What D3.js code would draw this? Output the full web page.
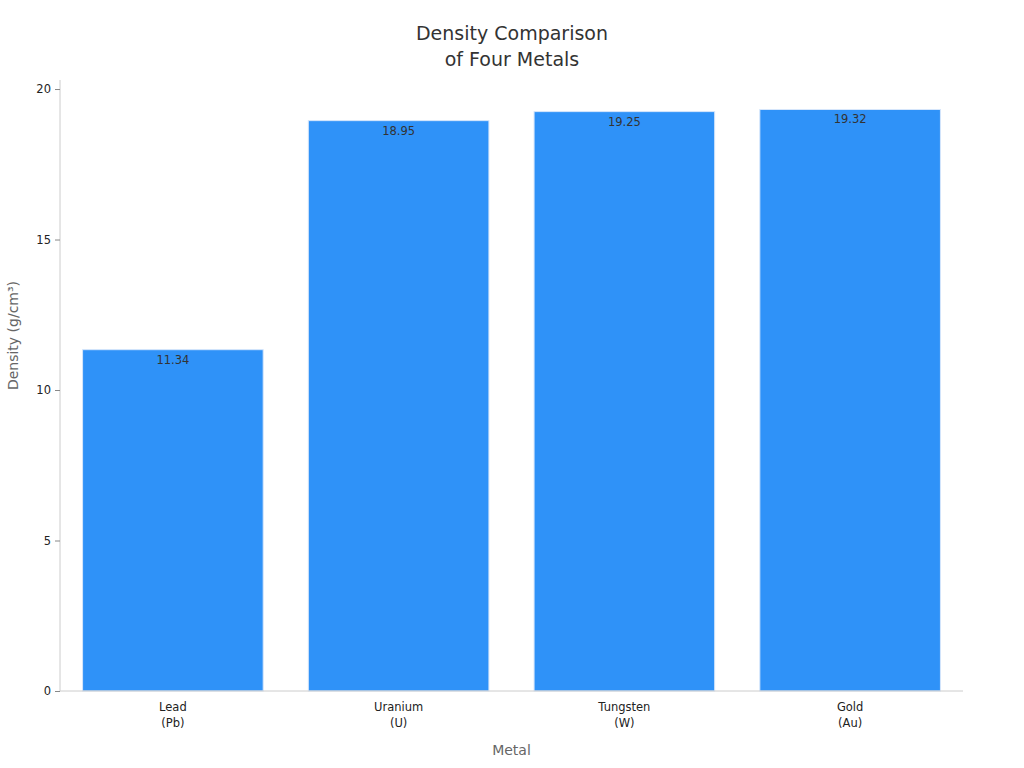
<!DOCTYPE html>
<html>
<head>
<meta charset="utf-8">
<script src="https://cdn.jsdelivr.net/npm/d3@7"></script>
<style>
  body { margin: 0; background: #fff; font-family: "DejaVu Sans", sans-serif; }
</style>
</head>
<body>
<div id="chart"></div>
<script>
// Data
const metals = ['Lead', 'Uranium', 'Tungsten', 'Gold']
const symbols = ['(Pb)', '(U)', '(W)', '(Au)']
const densities = [11.34, 18.95, 19.25, 19.32]
const yTicks = [0, 5, 10, 15, 20]

// Dimensions
const dimensions = {
  width: 1024,
  height: 768,
  margin: { top: 80, bottom: 77, left: 60, right: 61 }
}
const innerW = dimensions.width - dimensions.margin.left - dimensions.margin.right
const innerH = dimensions.height - dimensions.margin.top - dimensions.margin.bottom

const svg = d3.select('#chart')
  .append('svg')
  .attr('width', dimensions.width)
  .attr('height', dimensions.height)

const ctr = svg.append('g')
  .attr('transform', `translate(${dimensions.margin.left}, ${dimensions.margin.top})`)

// Scales
const x = d3.scaleBand()
  .domain(metals)
  .range([0, innerW])
  .paddingInner(0.2)
  .paddingOuter(0.1)

const y = d3.scaleLinear()
  .domain([0, 20.3])
  .range([innerH, 0])

// Bars
ctr.selectAll('rect.bar')
  .data(metals)
  .join('rect')
  .attr('class', 'bar')
  .attr('x', d => x(d))
  .attr('width', x.bandwidth())
  .attr('y', (d, i) => y(densities[i]))
  .attr('height', (d, i) => innerH - y(densities[i]))
  .attr('fill', '#2f92f8')
  .attr('stroke', '#d6e6fb')
  .attr('stroke-width', 1)

// Value labels
ctr.selectAll('text.val')
  .data(metals)
  .join('text')
  .attr('class', 'val')
  .attr('x', d => x(d) + x.bandwidth() / 2)
  .attr('y', (d, i) => y(densities[i]) + 14)
  .attr('text-anchor', 'middle')
  .attr('font-size', 11.5)
  .attr('fill', '#333')
  .text((d, i) => densities[i].toFixed(2))

// Axes
const yAxis = ctr.append('g')
  .call(d3.axisLeft(y).tickValues(yTicks).tickSize(5).tickPadding(4))
yAxis.selectAll('text').attr('font-size', 11.5).attr('fill', '#222').attr('font-family', '"DejaVu Sans", sans-serif')
yAxis.selectAll('line').attr('stroke', '#888')
yAxis.select('.domain').attr('stroke', '#ccc').attr('d', `M0,${innerH}V0`)

const xAxis = ctr.append('g')
  .attr('transform', `translate(0, ${innerH})`)
  .call(d3.axisBottom(x).tickSize(0).tickFormat(''))
xAxis.select('.domain').attr('stroke', '#ccc').attr('d', `M0,0H${innerW}`)

const xLabels = xAxis.selectAll('.tick')
  .append('text')
  .attr('fill', '#222')
  .attr('font-size', 11.5)
  .attr('text-anchor', 'middle')
  .attr('font-family', '"DejaVu Sans", sans-serif')
xLabels.append('tspan').attr('x', 0).attr('y', 20).text((d, i) => metals[i])
xLabels.append('tspan').attr('x', 0).attr('y', 36).text((d, i) => symbols[i])

// Axis titles
svg.append('text')
  .attr('x', dimensions.margin.left + innerW / 2)
  .attr('y', 755)
  .attr('text-anchor', 'middle')
  .attr('font-size', 14)
  .attr('fill', '#666')
  .text('Metal')

svg.append('text')
  .attr('transform', `translate(18, ${dimensions.margin.top + innerH / 2 - 50}) rotate(-90)`)
  .attr('text-anchor', 'middle')
  .attr('font-size', 14)
  .attr('fill', '#666')
  .text('Density (g/cm³)')

// Title
const title = svg.append('text')
  .attr('text-anchor', 'middle')
  .attr('font-size', 19)
  .attr('fill', '#333')
title.append('tspan').attr('x', 512).attr('y', 40).text('Density Comparison')
title.append('tspan').attr('x', 512).attr('y', 66).text('of Four Metals')
</script>
</body>
</html>
